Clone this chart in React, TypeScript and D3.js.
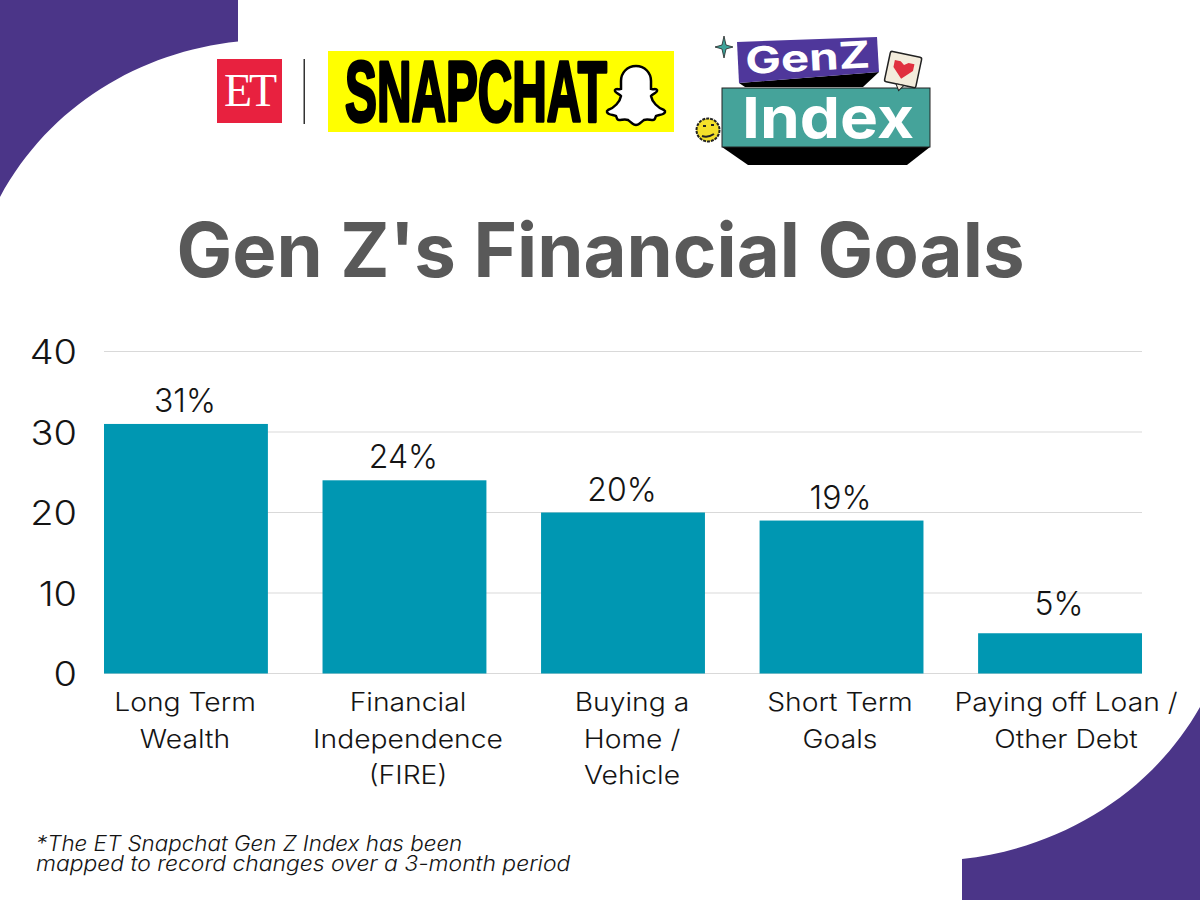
import React from "react";
import * as d3 from "d3";

const categories = ["Long Term Wealth", "Financial Independence (FIRE)", "Buying a Home / Vehicle", "Short Term Goals", "Paying off Loan / Other Debt"];
const values = [31, 24, 20, 19, 5];
const yTicks = [0, 10, 20, 30, 40];
const categoryLines = [["Long Term", "Wealth"], ["Financial", "Independence", "(FIRE)"], ["Buying a", "Home /", "Vehicle"], ["Short Term", "Goals"], ["Paying off Loan /", "Other Debt"]];
const labelCentres = [185, 408, 632, 840, 1066];
const valueRaise = [0, 0, 0, 0, 6];
const title = "Gen Z's Financial Goals";
const footnote = ["*The ET Snapchat Gen Z Index has been", "mapped to record changes over a 3-month period"];
const footnoteStretch = [1.066, 1.09];

const FONT = "Inter, 'Open Sans', sans-serif";
const PURPLE = "#4b3588";
const INK = "#141414";

const x = d3.scaleBand<string>().domain(categories).range([104, 1142]).paddingInner(0.25).paddingOuter(0);
const y = d3.scaleLinear().domain([0, 40]).range([673.5, 351.5]);

const topShape = d3.path();
topShape.moveTo(0, 0);
topShape.lineTo(238, 0);
topShape.lineTo(238, 41.5);
topShape.bezierCurveTo(140, 52, 50, 105, 0, 197);
topShape.closePath();

const bottomShape = d3.path();
bottomShape.moveTo(962, 900);
bottomShape.lineTo(962, 859);
bottomShape.bezierCurveTo(1060, 848, 1150, 795, 1200, 707);
bottomShape.lineTo(1200, 900);
bottomShape.closePath();

function Wide({ x, y, sx, anchor, children, ...rest }: any) {
  return (
    <text transform={`translate(${x},${y}) scale(${sx},1)`} textAnchor={anchor} {...rest}>
      {children}
    </text>
  );
}

function Logos() {
  return (
    <g>
      <rect x={217} y={59} width={65} height={64} fill="#e8213f" />
      <text x={249} y={106} textAnchor="middle" fill="#fff" fontFamily="'Liberation Serif', serif" fontSize={46} letterSpacing={-3}>ET</text>
      <rect x={303.5} y={59} width={1.5} height={65} fill="#333" />
      <rect x={328} y={51} width={346} height={81} fill="#ffff00" />
      <text transform="translate(345,120.5) scale(1,1.33)" fontFamily="'Liberation Sans Narrow', 'Liberation Sans', sans-serif" fontWeight={700} fontSize={64} textLength={262} lengthAdjust="spacingAndGlyphs" stroke="#000" strokeWidth={2.6} strokeLinejoin="round" fill="#000">SNAPCHAT</text>
      <path d="M636 66c9 0 15 7 15 15v8c2 1 5-1 6 1 1 3-5 4-6 6 1 6 7 12 13 14 2 1 1 3-1 4-2 1-6 1-7 2-1 2-1 4-3 4-3 0-6-1-9 0-3 2-5 5-8 5s-5-3-8-5c-3-1-6 0-9 0-2 0-2-2-3-4-1-1-5-1-7-2-2-1-3-3-1-4 6-2 12-8 13-14-1-2-7-3-6-6 1-2 4 0 6-1v-8c0-8 6-15 15-15z" fill="#fff" stroke="#000" strokeWidth={2.5} />
      <polygon points="739,83 879,72 863,87 745,87" fill="#000" />
      <polygon points="737,42 877,37 879,72 739,83" fill="#4f379b" />
      <text transform="translate(746,74) rotate(-3)" fontFamily="Inter, sans-serif" fontWeight={700} fontSize={37} textLength={125} lengthAdjust="spacingAndGlyphs" fill="#fff">GenZ</text>
      <polygon points="722,147 748,165 907,165 930,147" fill="#000" />
      <rect x={722} y={88} width={208} height={59} fill="#45a39a" stroke="#222" strokeWidth={1} />
      <text x={742} y={137.5} fontFamily="Inter, sans-serif" fontWeight={700} fontSize={57} textLength={172} lengthAdjust="spacingAndGlyphs" fill="#fff">Index</text>
      <polygon points="724,36 726,45 733,47 726,49 724,58 722,49 715,47 722,45" fill="#3fa39a" stroke="#222" strokeWidth={0.8} />
      <circle cx={708} cy={130} r={11.5} fill="#f4e02a" stroke="#222" strokeWidth={2} strokeDasharray="3 1" />
      <path d="M703 126h3M711 125h3M702 136q6 2 12-2" fill="none" stroke="#222" strokeWidth={2} />
      <g transform="rotate(12 903 70)">
        <rect x={887} y={54} width={32} height={31} rx={2} fill="#f3ecdc" stroke="#222" strokeWidth={1.5} />
        <path d="M903 79l-10-10v-7h6l4 3 4-3h6v7z" fill="#e0303f" />
        <path d="M899 85l4 6 4-6z" fill="#f3ecdc" stroke="#222" strokeWidth={1} />
      </g>
    </g>
  );
}

export default function App() {
  return (
    <svg width={1200} height={900} viewBox="0 0 1200 900" style={{ position: "fixed", left: 0, top: 0, background: "#fff" }} fontFamily={FONT}>
      <path d={topShape.toString()} fill={PURPLE} />
      <path d={bottomShape.toString()} fill={PURPLE} />
      <Logos />
      <text x={600.5} y={277} textAnchor="middle" fontSize={75} fontWeight={700} fill="#595959" textLength={848} lengthAdjust="spacingAndGlyphs">{title}</text>
      {yTicks.map((t) => (
        <g key={t}>
          <line x1={104} x2={1142} y1={y(t)} y2={y(t)} stroke="#d9d9d9" strokeWidth={1} />
          <Wide x={77} y={y(t) + 12.5} sx={1.1} anchor="end" fontSize={34.5} fontWeight={300} fill={INK}>{t}</Wide>
        </g>
      ))}
      {categories.map((c, i) => (
        <g key={c}>
          <rect x={x(c)} y={y(values[i])} width={x.bandwidth()} height={y(0) - y(values[i])} fill="#0097b2" />
          <Wide x={x(c)! + x.bandwidth() / 2 - 1} y={y(values[i]) - 12 - valueRaise[i]} sx={0.97} anchor="middle" fontSize={33} fontWeight={300} fill={INK}>{values[i]}%</Wide>
          {categoryLines[i].map((l, j) => (
            <Wide key={l} x={labelCentres[i]} y={711 + j * 36.7} sx={1.11} anchor="middle" fontSize={25.5} fontWeight={300} fill={INK}>{l}</Wide>
          ))}
        </g>
      ))}
      {footnote.map((l, j) => (
        <Wide key={l} x={36} y={851 + j * 20} sx={footnoteStretch[j]} fontSize={21} fontStyle="italic" fontWeight={300} fill={INK}>{l}</Wide>
      ))}
    </svg>
  );
}
